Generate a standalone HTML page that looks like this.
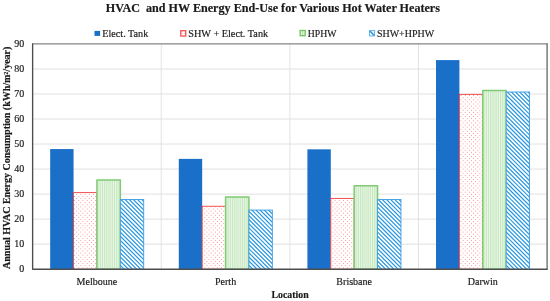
<!DOCTYPE html><html><head><meta charset="utf-8"><title>HVAC and HW Energy End-Use</title>
<style>html,body{margin:0;padding:0;background:#fff}svg{display:block}text{font-family:"Liberation Serif","Times New Roman",serif;fill:#1a1a1a;stroke:#1a1a1a;stroke-width:0.18px}</style></head><body>
<svg width="550" height="301" viewBox="0 0 550 301">
<defs>
<pattern id="pr" width="21" height="21" patternUnits="userSpaceOnUse"><rect width="21" height="21" fill="#fff"/><g fill="#ff6a6a"><rect x="0.70" y="0.70" width="0.8" height="0.8"/><rect x="2.80" y="2.80" width="0.8" height="0.8"/><rect x="0.70" y="4.90" width="0.8" height="0.8"/><rect x="2.80" y="7.00" width="0.8" height="0.8"/><rect x="0.70" y="9.10" width="0.8" height="0.8"/><rect x="2.80" y="11.20" width="0.8" height="0.8"/><rect x="0.70" y="13.30" width="0.8" height="0.8"/><rect x="2.80" y="15.40" width="0.8" height="0.8"/><rect x="0.70" y="17.50" width="0.8" height="0.8"/><rect x="2.80" y="19.60" width="0.8" height="0.8"/><rect x="4.90" y="0.70" width="0.8" height="0.8"/><rect x="7.00" y="2.80" width="0.8" height="0.8"/><rect x="4.90" y="4.90" width="0.8" height="0.8"/><rect x="7.00" y="7.00" width="0.8" height="0.8"/><rect x="4.90" y="9.10" width="0.8" height="0.8"/><rect x="7.00" y="11.20" width="0.8" height="0.8"/><rect x="4.90" y="13.30" width="0.8" height="0.8"/><rect x="7.00" y="15.40" width="0.8" height="0.8"/><rect x="4.90" y="17.50" width="0.8" height="0.8"/><rect x="7.00" y="19.60" width="0.8" height="0.8"/><rect x="9.10" y="0.70" width="0.8" height="0.8"/><rect x="11.20" y="2.80" width="0.8" height="0.8"/><rect x="9.10" y="4.90" width="0.8" height="0.8"/><rect x="11.20" y="7.00" width="0.8" height="0.8"/><rect x="9.10" y="9.10" width="0.8" height="0.8"/><rect x="11.20" y="11.20" width="0.8" height="0.8"/><rect x="9.10" y="13.30" width="0.8" height="0.8"/><rect x="11.20" y="15.40" width="0.8" height="0.8"/><rect x="9.10" y="17.50" width="0.8" height="0.8"/><rect x="11.20" y="19.60" width="0.8" height="0.8"/><rect x="13.30" y="0.70" width="0.8" height="0.8"/><rect x="15.40" y="2.80" width="0.8" height="0.8"/><rect x="13.30" y="4.90" width="0.8" height="0.8"/><rect x="15.40" y="7.00" width="0.8" height="0.8"/><rect x="13.30" y="9.10" width="0.8" height="0.8"/><rect x="15.40" y="11.20" width="0.8" height="0.8"/><rect x="13.30" y="13.30" width="0.8" height="0.8"/><rect x="15.40" y="15.40" width="0.8" height="0.8"/><rect x="13.30" y="17.50" width="0.8" height="0.8"/><rect x="15.40" y="19.60" width="0.8" height="0.8"/><rect x="17.50" y="0.70" width="0.8" height="0.8"/><rect x="19.60" y="2.80" width="0.8" height="0.8"/><rect x="17.50" y="4.90" width="0.8" height="0.8"/><rect x="19.60" y="7.00" width="0.8" height="0.8"/><rect x="17.50" y="9.10" width="0.8" height="0.8"/><rect x="19.60" y="11.20" width="0.8" height="0.8"/><rect x="17.50" y="13.30" width="0.8" height="0.8"/><rect x="19.60" y="15.40" width="0.8" height="0.8"/><rect x="17.50" y="17.50" width="0.8" height="0.8"/><rect x="19.60" y="19.60" width="0.8" height="0.8"/></g></pattern>
</defs>
<rect width="550" height="301" fill="#fff"/>
<line x1="32.63" x2="547.1" y1="244.17" y2="244.17" stroke="#dbdbdb" stroke-width="0.85"/>
<line x1="32.63" x2="547.1" y1="219.14" y2="219.14" stroke="#dbdbdb" stroke-width="0.85"/>
<line x1="32.63" x2="547.1" y1="194.12" y2="194.12" stroke="#dbdbdb" stroke-width="0.85"/>
<line x1="32.63" x2="547.1" y1="169.09" y2="169.09" stroke="#dbdbdb" stroke-width="0.85"/>
<line x1="32.63" x2="547.1" y1="144.06" y2="144.06" stroke="#dbdbdb" stroke-width="0.85"/>
<line x1="32.63" x2="547.1" y1="119.03" y2="119.03" stroke="#dbdbdb" stroke-width="0.85"/>
<line x1="32.63" x2="547.1" y1="94.01" y2="94.01" stroke="#dbdbdb" stroke-width="0.85"/>
<line x1="32.63" x2="547.1" y1="68.98" y2="68.98" stroke="#dbdbdb" stroke-width="0.85"/>
<line x1="161.25" x2="161.25" y1="43.95" y2="269.2" stroke="#dedede" stroke-width="0.85"/>
<line x1="289.87" x2="289.87" y1="43.95" y2="269.2" stroke="#dedede" stroke-width="0.85"/>
<line x1="418.48" x2="418.48" y1="43.95" y2="269.2" stroke="#dedede" stroke-width="0.85"/>
<rect x="50.17" y="149.07" width="23.39" height="120.13" fill="#1a6fc9"/>
<rect x="73.55" y="192.61" width="23.39" height="76.59" fill="url(#pr)" stroke="#f04040" stroke-width="0.9"/>
<rect x="96.94" y="180.03" width="23.39" height="89.17" fill="#d7efd2"/>
<rect x="98" y="180.03" width="1" height="89.17" fill="#5fbf4f" fill-opacity="0.02"/><rect x="99" y="180.03" width="1" height="89.17" fill="#ffffff" fill-opacity="0.18"/><rect x="100" y="180.03" width="1" height="89.17" fill="#5fbf4f" fill-opacity="0.09"/><rect x="101" y="180.03" width="1" height="89.17" fill="#ffffff" fill-opacity="0.40"/><rect x="102" y="180.03" width="1" height="89.17" fill="#5fbf4f" fill-opacity="0.14"/><rect x="103" y="180.03" width="1" height="89.17" fill="#ffffff" fill-opacity="0.43"/><rect x="104" y="180.03" width="1" height="89.17" fill="#5fbf4f" fill-opacity="0.11"/><rect x="105" y="180.03" width="1" height="89.17" fill="#ffffff" fill-opacity="0.25"/><rect x="106" y="180.03" width="1" height="89.17" fill="#5fbf4f" fill-opacity="0.04"/><rect x="107" y="180.03" width="1" height="89.17" fill="#ffffff" fill-opacity="0.04"/><rect x="109" y="180.03" width="1" height="89.17" fill="#ffffff" fill-opacity="0.02"/><rect x="110" y="180.03" width="1" height="89.17" fill="#5fbf4f" fill-opacity="0.03"/><rect x="111" y="180.03" width="1" height="89.17" fill="#ffffff" fill-opacity="0.22"/><rect x="112" y="180.03" width="1" height="89.17" fill="#5fbf4f" fill-opacity="0.10"/><rect x="113" y="180.03" width="1" height="89.17" fill="#ffffff" fill-opacity="0.42"/><rect x="114" y="180.03" width="1" height="89.17" fill="#5fbf4f" fill-opacity="0.14"/><rect x="115" y="180.03" width="1" height="89.17" fill="#ffffff" fill-opacity="0.42"/><rect x="116" y="180.03" width="1" height="89.17" fill="#5fbf4f" fill-opacity="0.10"/><rect x="117" y="180.03" width="1" height="89.17" fill="#ffffff" fill-opacity="0.21"/><rect x="118" y="180.03" width="1" height="89.17" fill="#5fbf4f" fill-opacity="0.03"/><rect x="119" y="180.03" width="1" height="89.17" fill="#ffffff" fill-opacity="0.02"/>
<rect x="96.94" y="180.03" width="23.39" height="89.17" fill="none" stroke="#80ca76" stroke-width="1.5" stroke-linejoin="round"/>
<clipPath id="c0"><rect x="120.32" y="199.50" width="23.39" height="69.70"/></clipPath>
<rect x="120.32" y="199.50" width="23.39" height="69.70" fill="#fff"/>
<g clip-path="url(#c0)">
<path d="M41.048,198.498l71.70,71.70M45.198,198.498l71.70,71.70M49.348,198.498l71.70,71.70M53.498,198.498l71.70,71.70M57.648,198.498l71.70,71.70M61.798,198.498l71.70,71.70M65.948,198.498l71.70,71.70M70.098,198.498l71.70,71.70M74.248,198.498l71.70,71.70M78.398,198.498l71.70,71.70M82.548,198.498l71.70,71.70M86.698,198.498l71.70,71.70M90.848,198.498l71.70,71.70M94.998,198.498l71.70,71.70M99.148,198.498l71.70,71.70M103.298,198.498l71.70,71.70M107.448,198.498l71.70,71.70M111.598,198.498l71.70,71.70M115.748,198.498l71.70,71.70M119.898,198.498l71.70,71.70M124.048,198.498l71.70,71.70M128.198,198.498l71.70,71.70M132.348,198.498l71.70,71.70M136.498,198.498l71.70,71.70M140.648,198.498l71.70,71.70M144.798,198.498l71.70,71.70M148.948,198.498l71.70,71.70M153.098,198.498l71.70,71.70" stroke="#2796e0" stroke-width="1.2" fill="none"/>
</g>
<rect x="120.32" y="199.50" width="23.39" height="69.70" fill="none" stroke="#3a9de3" stroke-width="0.9"/>
<rect x="178.79" y="158.88" width="23.39" height="110.32" fill="#1a6fc9"/>
<rect x="202.17" y="206.26" width="23.39" height="62.94" fill="url(#pr)" stroke="#f04040" stroke-width="0.9"/>
<rect x="225.56" y="196.99" width="23.39" height="72.21" fill="#d7efd2"/>
<rect x="227" y="196.99" width="1" height="72.21" fill="#ffffff" fill-opacity="0.11"/><rect x="228" y="196.99" width="1" height="72.21" fill="#5fbf4f" fill-opacity="0.07"/><rect x="229" y="196.99" width="1" height="72.21" fill="#ffffff" fill-opacity="0.34"/><rect x="230" y="196.99" width="1" height="72.21" fill="#5fbf4f" fill-opacity="0.13"/><rect x="231" y="196.99" width="1" height="72.21" fill="#ffffff" fill-opacity="0.45"/><rect x="232" y="196.99" width="1" height="72.21" fill="#5fbf4f" fill-opacity="0.13"/><rect x="233" y="196.99" width="1" height="72.21" fill="#ffffff" fill-opacity="0.32"/><rect x="234" y="196.99" width="1" height="72.21" fill="#5fbf4f" fill-opacity="0.06"/><rect x="235" y="196.99" width="1" height="72.21" fill="#ffffff" fill-opacity="0.09"/><rect x="239" y="196.99" width="1" height="72.21" fill="#ffffff" fill-opacity="0.15"/><rect x="240" y="196.99" width="1" height="72.21" fill="#5fbf4f" fill-opacity="0.08"/><rect x="241" y="196.99" width="1" height="72.21" fill="#ffffff" fill-opacity="0.37"/><rect x="242" y="196.99" width="1" height="72.21" fill="#5fbf4f" fill-opacity="0.14"/><rect x="243" y="196.99" width="1" height="72.21" fill="#ffffff" fill-opacity="0.44"/><rect x="244" y="196.99" width="1" height="72.21" fill="#5fbf4f" fill-opacity="0.12"/><rect x="245" y="196.99" width="1" height="72.21" fill="#ffffff" fill-opacity="0.29"/><rect x="246" y="196.99" width="1" height="72.21" fill="#5fbf4f" fill-opacity="0.05"/><rect x="247" y="196.99" width="1" height="72.21" fill="#ffffff" fill-opacity="0.06"/>
<rect x="225.56" y="196.99" width="23.39" height="72.21" fill="none" stroke="#80ca76" stroke-width="1.5" stroke-linejoin="round"/>
<clipPath id="c1"><rect x="248.94" y="210.06" width="23.39" height="59.14"/></clipPath>
<rect x="248.94" y="210.06" width="23.39" height="59.14" fill="#fff"/>
<g clip-path="url(#c1)">
<path d="M180.259,209.059l61.14,61.14M184.409,209.059l61.14,61.14M188.559,209.059l61.14,61.14M192.709,209.059l61.14,61.14M196.859,209.059l61.14,61.14M201.009,209.059l61.14,61.14M205.159,209.059l61.14,61.14M209.309,209.059l61.14,61.14M213.459,209.059l61.14,61.14M217.609,209.059l61.14,61.14M221.759,209.059l61.14,61.14M225.909,209.059l61.14,61.14M230.059,209.059l61.14,61.14M234.209,209.059l61.14,61.14M238.359,209.059l61.14,61.14M242.509,209.059l61.14,61.14M246.659,209.059l61.14,61.14M250.809,209.059l61.14,61.14M254.959,209.059l61.14,61.14M259.109,209.059l61.14,61.14M263.259,209.059l61.14,61.14M267.409,209.059l61.14,61.14M271.559,209.059l61.14,61.14M275.709,209.059l61.14,61.14M279.859,209.059l61.14,61.14" stroke="#2796e0" stroke-width="1.2" fill="none"/>
</g>
<rect x="248.94" y="210.06" width="23.39" height="59.14" fill="none" stroke="#3a9de3" stroke-width="0.9"/>
<rect x="307.40" y="149.32" width="23.39" height="119.88" fill="#1a6fc9"/>
<rect x="330.79" y="198.42" width="23.39" height="70.78" fill="url(#pr)" stroke="#f04040" stroke-width="0.9"/>
<rect x="354.17" y="185.73" width="23.39" height="83.47" fill="#d7efd2"/>
<rect x="355" y="185.73" width="1" height="83.47" fill="#ffffff" fill-opacity="0.05"/><rect x="356" y="185.73" width="1" height="83.47" fill="#5fbf4f" fill-opacity="0.05"/><rect x="357" y="185.73" width="1" height="83.47" fill="#ffffff" fill-opacity="0.27"/><rect x="358" y="185.73" width="1" height="83.47" fill="#5fbf4f" fill-opacity="0.12"/><rect x="359" y="185.73" width="1" height="83.47" fill="#ffffff" fill-opacity="0.44"/><rect x="360" y="185.73" width="1" height="83.47" fill="#5fbf4f" fill-opacity="0.14"/><rect x="361" y="185.73" width="1" height="83.47" fill="#ffffff" fill-opacity="0.38"/><rect x="362" y="185.73" width="1" height="83.47" fill="#5fbf4f" fill-opacity="0.09"/><rect x="363" y="185.73" width="1" height="83.47" fill="#ffffff" fill-opacity="0.16"/><rect x="367" y="185.73" width="1" height="83.47" fill="#ffffff" fill-opacity="0.08"/><rect x="368" y="185.73" width="1" height="83.47" fill="#5fbf4f" fill-opacity="0.06"/><rect x="369" y="185.73" width="1" height="83.47" fill="#ffffff" fill-opacity="0.31"/><rect x="370" y="185.73" width="1" height="83.47" fill="#5fbf4f" fill-opacity="0.13"/><rect x="371" y="185.73" width="1" height="83.47" fill="#ffffff" fill-opacity="0.45"/><rect x="372" y="185.73" width="1" height="83.47" fill="#5fbf4f" fill-opacity="0.13"/><rect x="373" y="185.73" width="1" height="83.47" fill="#ffffff" fill-opacity="0.35"/><rect x="374" y="185.73" width="1" height="83.47" fill="#5fbf4f" fill-opacity="0.08"/><rect x="375" y="185.73" width="1" height="83.47" fill="#ffffff" fill-opacity="0.12"/>
<rect x="354.17" y="185.73" width="23.39" height="83.47" fill="none" stroke="#80ca76" stroke-width="1.5" stroke-linejoin="round"/>
<clipPath id="c2"><rect x="377.56" y="199.47" width="23.39" height="69.73"/></clipPath>
<rect x="377.56" y="199.47" width="23.39" height="69.73" fill="#fff"/>
<g clip-path="url(#c2)">
<path d="M298.323,198.473l71.73,71.73M302.473,198.473l71.73,71.73M306.623,198.473l71.73,71.73M310.773,198.473l71.73,71.73M314.923,198.473l71.73,71.73M319.073,198.473l71.73,71.73M323.223,198.473l71.73,71.73M327.373,198.473l71.73,71.73M331.523,198.473l71.73,71.73M335.673,198.473l71.73,71.73M339.823,198.473l71.73,71.73M343.973,198.473l71.73,71.73M348.123,198.473l71.73,71.73M352.273,198.473l71.73,71.73M356.423,198.473l71.73,71.73M360.573,198.473l71.73,71.73M364.723,198.473l71.73,71.73M368.873,198.473l71.73,71.73M373.023,198.473l71.73,71.73M377.173,198.473l71.73,71.73M381.323,198.473l71.73,71.73M385.473,198.473l71.73,71.73M389.623,198.473l71.73,71.73M393.773,198.473l71.73,71.73M397.923,198.473l71.73,71.73M402.073,198.473l71.73,71.73M406.223,198.473l71.73,71.73M410.373,198.473l71.73,71.73" stroke="#2796e0" stroke-width="1.2" fill="none"/>
</g>
<rect x="377.56" y="199.47" width="23.39" height="69.73" fill="none" stroke="#3a9de3" stroke-width="0.9"/>
<rect x="436.02" y="60.09" width="23.39" height="209.11" fill="#1a6fc9"/>
<rect x="459.41" y="94.38" width="23.39" height="174.82" fill="url(#pr)" stroke="#f04040" stroke-width="0.9"/>
<rect x="482.79" y="90.50" width="23.39" height="178.70" fill="#d7efd2"/>
<rect x="484" y="90.50" width="1" height="178.70" fill="#5fbf4f" fill-opacity="0.03"/><rect x="485" y="90.50" width="1" height="178.70" fill="#ffffff" fill-opacity="0.20"/><rect x="486" y="90.50" width="1" height="178.70" fill="#5fbf4f" fill-opacity="0.10"/><rect x="487" y="90.50" width="1" height="178.70" fill="#ffffff" fill-opacity="0.41"/><rect x="488" y="90.50" width="1" height="178.70" fill="#5fbf4f" fill-opacity="0.14"/><rect x="489" y="90.50" width="1" height="178.70" fill="#ffffff" fill-opacity="0.43"/><rect x="490" y="90.50" width="1" height="178.70" fill="#5fbf4f" fill-opacity="0.11"/><rect x="491" y="90.50" width="1" height="178.70" fill="#ffffff" fill-opacity="0.23"/><rect x="492" y="90.50" width="1" height="178.70" fill="#5fbf4f" fill-opacity="0.04"/><rect x="493" y="90.50" width="1" height="178.70" fill="#ffffff" fill-opacity="0.03"/><rect x="495" y="90.50" width="1" height="178.70" fill="#ffffff" fill-opacity="0.03"/><rect x="496" y="90.50" width="1" height="178.70" fill="#5fbf4f" fill-opacity="0.04"/><rect x="497" y="90.50" width="1" height="178.70" fill="#ffffff" fill-opacity="0.24"/><rect x="498" y="90.50" width="1" height="178.70" fill="#5fbf4f" fill-opacity="0.11"/><rect x="499" y="90.50" width="1" height="178.70" fill="#ffffff" fill-opacity="0.43"/><rect x="500" y="90.50" width="1" height="178.70" fill="#5fbf4f" fill-opacity="0.14"/><rect x="501" y="90.50" width="1" height="178.70" fill="#ffffff" fill-opacity="0.41"/><rect x="502" y="90.50" width="1" height="178.70" fill="#5fbf4f" fill-opacity="0.10"/><rect x="503" y="90.50" width="1" height="178.70" fill="#ffffff" fill-opacity="0.20"/><rect x="504" y="90.50" width="1" height="178.70" fill="#5fbf4f" fill-opacity="0.03"/>
<rect x="482.79" y="90.50" width="23.39" height="178.70" fill="none" stroke="#80ca76" stroke-width="1.5" stroke-linejoin="round"/>
<clipPath id="c3"><rect x="506.18" y="92.00" width="23.39" height="177.20"/></clipPath>
<rect x="506.18" y="92.00" width="23.39" height="177.20" fill="#fff"/>
<g clip-path="url(#c3)">
<path d="M319.503,91.003l179.20,179.20M323.653,91.003l179.20,179.20M327.803,91.003l179.20,179.20M331.953,91.003l179.20,179.20M336.103,91.003l179.20,179.20M340.253,91.003l179.20,179.20M344.403,91.003l179.20,179.20M348.553,91.003l179.20,179.20M352.703,91.003l179.20,179.20M356.853,91.003l179.20,179.20M361.003,91.003l179.20,179.20M365.153,91.003l179.20,179.20M369.303,91.003l179.20,179.20M373.453,91.003l179.20,179.20M377.603,91.003l179.20,179.20M381.753,91.003l179.20,179.20M385.903,91.003l179.20,179.20M390.053,91.003l179.20,179.20M394.203,91.003l179.20,179.20M398.353,91.003l179.20,179.20M402.503,91.003l179.20,179.20M406.653,91.003l179.20,179.20M410.803,91.003l179.20,179.20M414.953,91.003l179.20,179.20M419.103,91.003l179.20,179.20M423.253,91.003l179.20,179.20M427.403,91.003l179.20,179.20M431.553,91.003l179.20,179.20M435.703,91.003l179.20,179.20M439.853,91.003l179.20,179.20M444.003,91.003l179.20,179.20M448.153,91.003l179.20,179.20M452.303,91.003l179.20,179.20M456.453,91.003l179.20,179.20M460.603,91.003l179.20,179.20M464.753,91.003l179.20,179.20M468.903,91.003l179.20,179.20M473.053,91.003l179.20,179.20M477.203,91.003l179.20,179.20M481.353,91.003l179.20,179.20M485.503,91.003l179.20,179.20M489.653,91.003l179.20,179.20M493.803,91.003l179.20,179.20M497.953,91.003l179.20,179.20M502.103,91.003l179.20,179.20M506.253,91.003l179.20,179.20M510.403,91.003l179.20,179.20M514.553,91.003l179.20,179.20M518.703,91.003l179.20,179.20M522.853,91.003l179.20,179.20M527.003,91.003l179.20,179.20M531.153,91.003l179.20,179.20M535.303,91.003l179.20,179.20M539.453,91.003l179.20,179.20" stroke="#2796e0" stroke-width="1.2" fill="none"/>
</g>
<rect x="506.18" y="92.00" width="23.39" height="177.20" fill="none" stroke="#3a9de3" stroke-width="0.9"/>
<path d="M32.63,43.95H547.1" fill="none" stroke="#858585" stroke-width="1.25" stroke-linecap="round"/>
<path d="M547.1,269.2V43.95" fill="none" stroke="#666" stroke-width="1.3" stroke-linecap="round"/>
<path d="M32.63,43.95V269.2H547.1" fill="none" stroke="#4d4d4d" stroke-width="1.35" stroke-linejoin="round" stroke-linecap="round"/>
<text transform="translate(272.9,11.6) scale(0.969,1)" text-anchor="middle" font-size="12.52" font-weight="bold" xml:space="preserve">HVAC  and HW Energy End-Use for Various Hot Water Heaters</text>
<rect x="94.5" y="30.9" width="5.6" height="5" fill="#1a6fc9"/>
<text x="102.3" y="36.6" font-size="10.45" textLength="46.0" lengthAdjust="spacingAndGlyphs">Elect. Tank</text>
<rect x="180.75" y="30.7" width="5.0" height="5.3" fill="#fff" stroke="#f25050" stroke-width="1.3"/>
<rect x="182.29999999999998" y="33.0" width="0.7" height="0.7" fill="#ff8080"/><rect x="184.1" y="33.0" width="0.7" height="0.7" fill="#ff8080"/>
<text x="188.2" y="36.6" font-size="10.45" textLength="80.0" lengthAdjust="spacingAndGlyphs">SHW + Elect. Tank</text>
<rect x="300.2" y="30.5" width="5.0" height="5.2" fill="#eef8ec" stroke="#72c860" stroke-width="1.4"/>
<rect x="302.4" y="31.2" width="0.8" height="3.8" fill="#8fd482"/>
<text x="307.8" y="36.6" font-size="10.45" textLength="28.7" lengthAdjust="spacingAndGlyphs">HPHW</text>
<rect x="369.5" y="30.6" width="5.1" height="5.3" fill="#fff" stroke="#5ab2ea" stroke-width="1.0"/>
<path d="M370.2,31.3 L373.9,35.2" stroke="#2a8fde" stroke-width="1.5"/>
<text x="376.9" y="36.6" font-size="10.45" textLength="57.2" lengthAdjust="spacingAndGlyphs">SHW+HPHW</text>
<text transform="translate(24.2,272) scale(0.962,1)" text-anchor="end" font-size="10.4">0</text>
<text transform="translate(24.2,247) scale(0.962,1)" text-anchor="end" font-size="10.4">10</text>
<text transform="translate(24.2,222) scale(0.962,1)" text-anchor="end" font-size="10.4">20</text>
<text transform="translate(24.2,197) scale(0.962,1)" text-anchor="end" font-size="10.4">30</text>
<text transform="translate(24.2,172) scale(0.962,1)" text-anchor="end" font-size="10.4">40</text>
<text transform="translate(24.2,147) scale(0.962,1)" text-anchor="end" font-size="10.4">50</text>
<text transform="translate(24.2,122) scale(0.962,1)" text-anchor="end" font-size="10.4">60</text>
<text transform="translate(24.2,97) scale(0.962,1)" text-anchor="end" font-size="10.4">70</text>
<text transform="translate(24.2,72) scale(0.962,1)" text-anchor="end" font-size="10.4">80</text>
<text transform="translate(24.2,47) scale(0.962,1)" text-anchor="end" font-size="10.4">90</text>
<text transform="translate(96.94,284.6) scale(0.965,1)" text-anchor="middle" font-size="10.4">Melboune</text>
<text transform="translate(225.56,284.6) scale(0.965,1)" text-anchor="middle" font-size="10.4">Perth</text>
<text transform="translate(354.17,284.6) scale(0.965,1)" text-anchor="middle" font-size="10.4">Brisbane</text>
<text transform="translate(482.79,284.6) scale(0.965,1)" text-anchor="middle" font-size="10.4">Darwin</text>
<text transform="translate(290.06,297.6) scale(0.955,1)" text-anchor="middle" font-size="10.3" font-weight="bold">Location</text>
<text transform="translate(9.6,157.8) rotate(-90) scale(1,0.94)" text-anchor="middle" font-size="10" font-weight="bold" textLength="222.3" lengthAdjust="spacingAndGlyphs">Annual HVAC Energy Consumption (kWh/m²/year)</text>
</svg></body></html>
